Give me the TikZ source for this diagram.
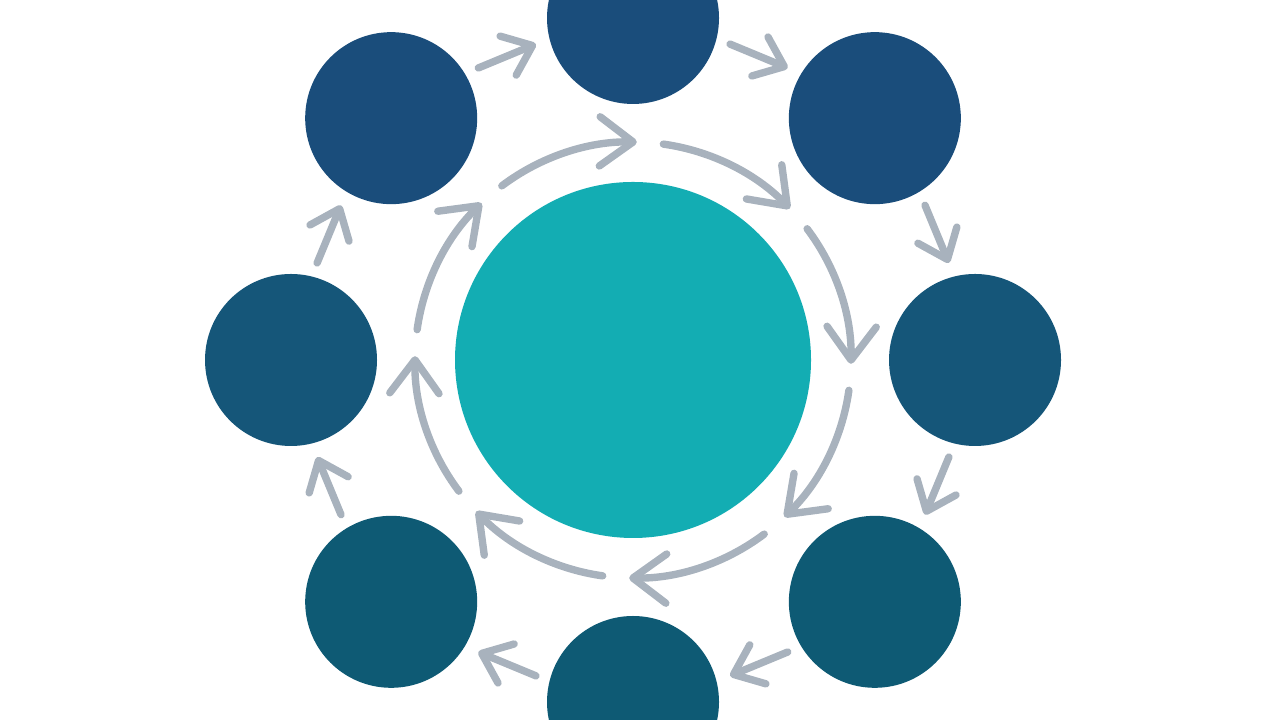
\documentclass[tikz,border=0pt]{standalone}
\usepackage{tikz}
\usetikzlibrary{positioning, arrows.meta, calc}

\definecolor{hubteal}{HTML}{13ADB3}
\definecolor{topblue}{HTML}{1A4D7B}
\definecolor{midblue}{HTML}{155679}
\definecolor{lowblue}{HTML}{0E5A74}
\definecolor{arrgray}{HTML}{A8B2BD}

\tikzset{
  hubdisc/.style={circle, fill=hubteal, minimum size=3.56cm, inner sep=0pt},
  ringdisc/.style={circle, minimum size=1.72cm, inner sep=0pt},
  inarr/.style={draw=arrgray, line width=2.1pt, line cap=round,
    -{Straight Barb[length=9.5pt,width=14pt,round]}},
  outarr/.style={draw=arrgray, line width=2.1pt, line cap=round,
    shorten <=0.13cm, shorten >=0.13cm,
    -{Straight Barb[length=7.5pt,width=12pt,round]}}
}

\begin{document}
\begin{tikzpicture}
    \useasboundingbox (0,0) rectangle (12.8,7.2);
    \clip (0,0) rectangle (12.8,7.2);              % page edges cut the top and bottom discs
    \node [hubdisc] (hub) at (6.33,3.6) {};        % big disc in the middle
    % outer ring of discs, clockwise from the top
    \node [ringdisc, fill=topblue] (o1) at ($(hub)+(90:3.42)$) {};
    \node [ringdisc, fill=topblue] (o2) at ($(hub)+(45:3.42)$) {};
    \node [ringdisc, fill=midblue] (o3) at ($(hub)+(0:3.42)$) {};
    \node [ringdisc, fill=lowblue] (o4) at ($(hub)+(-45:3.42)$) {};
    \node [ringdisc, fill=lowblue] (o5) at ($(hub)+(-90:3.42)$) {};
    \node [ringdisc, fill=lowblue] (o6) at ($(hub)+(-135:3.42)$) {};
    \node [ringdisc, fill=midblue] (o7) at ($(hub)+(180:3.42)$) {};
    \node [ringdisc, fill=topblue] (o8) at ($(hub)+(135:3.42)$) {};
    % short arrows between neighbouring discs
    \foreach \i/\j [evaluate=\i as \a using 67.5-45*(\i-1)] in {1/2,2/3,3/4,4/5,5/6,6/7,7/8,8/1}
      \draw [outarr, transform canvas={shift={(\a:0.13)}}] (o\i) -- (o\j);
    % curved arrows round the middle disc
    \foreach \k [evaluate=\k as \e using 89-45*\k, evaluate=\k as \s using 127-45*\k] in {0,...,7}
      \draw [inarr] ($(hub)+(\s:2.18)$) arc [start angle=\s, end angle=\e, radius=2.18];
\end{tikzpicture}
\end{document}
